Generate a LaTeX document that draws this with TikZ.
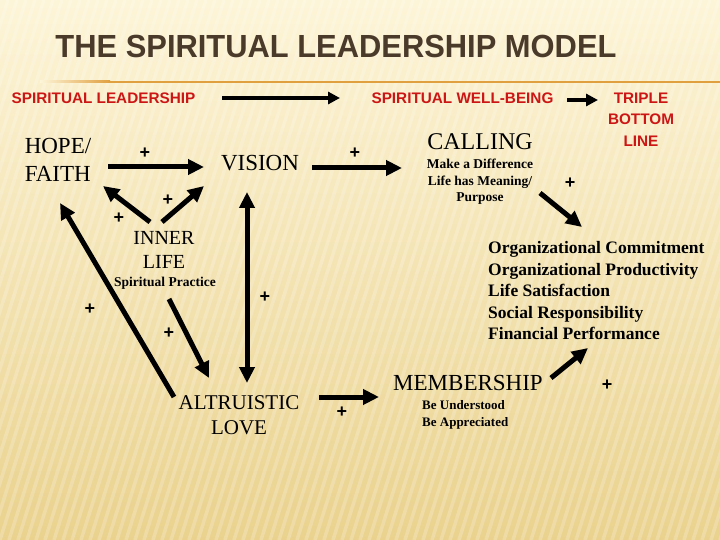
\documentclass[tikz,border=0pt]{standalone}
\usepackage{fontspec}
\setmainfont{Liberation Serif}
\newfontfamily\hsans{Liberation Sans}
\usetikzlibrary{arrows.meta}
\definecolor{bgtop}{HTML}{FDF5D8}
\definecolor{bgmid}{HTML}{F7E7B6}
\definecolor{bgbot}{HTML}{EAD28E}
\definecolor{titlecol}{HTML}{4A3A2A}
\definecolor{headred}{RGB}{204,22,22}
\definecolor{rulecol}{HTML}{E0A040}
\tikzset{
  txt/.style={inner sep=0pt, text=black},
  big/.style={txt, font=\fontsize{23}{28}\selectfont},
  small/.style={txt, font=\bfseries\fontsize{13.5}{16.5}\selectfont},
  head/.style={inner sep=0pt, text=headred, font=\hsans\bfseries\fontsize{15.3}{21.5}\selectfont},
  plus/.style={inner sep=0pt, font=\hsans\bfseries\fontsize{18}{18}\selectfont},
  arr/.style={line width=5pt, -{Triangle[length=16pt,width=15pt]}},
  darr/.style={line width=5pt, {Triangle[length=16pt,width=15pt]}-{Triangle[length=16pt,width=15pt]}},
  harr/.style={line width=4pt, -{Triangle[length=12pt,width=12pt]}}
}
\begin{document}
\begin{tikzpicture}[x=1pt,y=-1pt]
\useasboundingbox (0,0) rectangle (720,540);
% background
\shade[top color=bgtop, middle color=bgmid, bottom color=bgbot] (0,0) rectangle (720,540);
\begin{scope}
\clip (0,0) rectangle (720,540);
\foreach \i in {-30,...,85} \draw[white, opacity=0.2, line width=3.5pt] (\i*9,540) -- (\i*9+170,0);
\end{scope}
% title and rule
\node[inner sep=0pt, text=titlecol, font=\hsans\bfseries\fontsize{32}{32}\selectfont] (title) at (336,46.5) {\scalebox{0.965}[1]{THE SPIRITUAL LEADERSHIP MODEL}};
\shade[left color=bgtop, right color=rulecol] (40,81) rectangle (110,83);
\fill[rulecol] (110,81) rectangle (720,83);
% headings
\node[head] (sl) at (103.5,98) {SPIRITUAL LEADERSHIP};
\node[head] (swb) at (462.5,98) {SPIRITUAL WELL-BEING};
\node[head, align=center] (triple) at (641,119.5) {TRIPLE\\BOTTOM\\LINE};
% concepts
\node[big, align=left] (hope) at (58,160) {HOPE/\\FAITH};
\node[big] (vision) at (260,163) {VISION};
\node[txt, font=\fontsize{24}{28}\selectfont] (calling) at (480,142) {CALLING};
\node[small, align=center] (csub) at (480,182) {Make a Difference\\Life has Meaning/\\Purpose};
\node[txt, align=center, font=\fontsize{20}{24}\selectfont] (inner) at (164,250) {INNER\\LIFE};
\node[small] (practice) at (165,283) {Spiritual Practice};
\node[txt, align=center, font=\fontsize{21}{25}\selectfont] (alt) at (239,415.5) {ALTRUISTIC\\LOVE};
\node[big] (memb) at (468,383) {MEMBERSHIP};
\node[txt, anchor=west, align=left, font=\bfseries\fontsize{13}{17}\selectfont] (msub) at (422,415) {Be Understood\\Be Appreciated};
\node[txt, anchor=west, align=left, font=\bfseries\fontsize{17.5}{21.5}\selectfont] (out) at (488,291) {Organizational Commitment\\Organizational Productivity\\Life Satisfaction\\Social Responsibility\\Financial Performance};
% arrows
\draw[harr] ([shift={(118.5,0)}]sl.center) -- ([shift={(-122.5,0)}]swb.center);
\draw[harr] ([shift={(104.5,2)}]swb.center) -- ([shift={(-43,-19.5)}]triple.center);
\draw[arr] ([shift={(50,7)}]hope.center) -- ([shift={(-56,4)}]vision.center);
\draw[arr] ([shift={(52,5)}]vision.center) -- ([shift={(-78,-14)}]csub.center);
\draw[arr] ([shift={(-14,-28)}]inner.center) -- ([shift={(45,26)}]hope.center);
\draw[arr] ([shift={(-2,-28)}]inner.center) -- ([shift={(-56,23)}]vision.center);
\draw[darr] ([shift={(-13,29)}]vision.center) -- ([shift={(8,-32.5)}]alt.center);
\draw[arr] ([shift={(4,16)}]practice.center) -- ([shift={(-30,-37.5)}]alt.center);
\draw[arr] ([shift={(-65,-18.5)}]alt.center) -- ([shift={(2,43)}]hope.center);
\draw[arr] ([shift={(80,-18.5)}]alt.center) -- ([shift={(-89,14)}]memb.center);
\draw[arr] ([shift={(83,-5)}]memb.center) -- ([shift={(100,57)}]out.west);
\draw[arr] ([shift={(60,11)}]csub.center) -- ([shift={(94,-64)}]out.west);
% plus signs
\node[plus] (p1) at (145,153) {+};
\node[plus] (p2) at (355,153) {+};
\node[plus] (p3) at (119,218) {+};
\node[plus] (p4) at (168,200) {+};
\node[plus] (p5) at (570,183) {+};
\node[plus] (p6) at (90,309) {+};
\node[plus] (p7) at (169,333) {+};
\node[plus] (p8) at (265,297) {+};
\node[plus] (p9) at (342,412) {+};
\node[plus] (p10) at (607,385) {+};
\end{tikzpicture}
\end{document}
